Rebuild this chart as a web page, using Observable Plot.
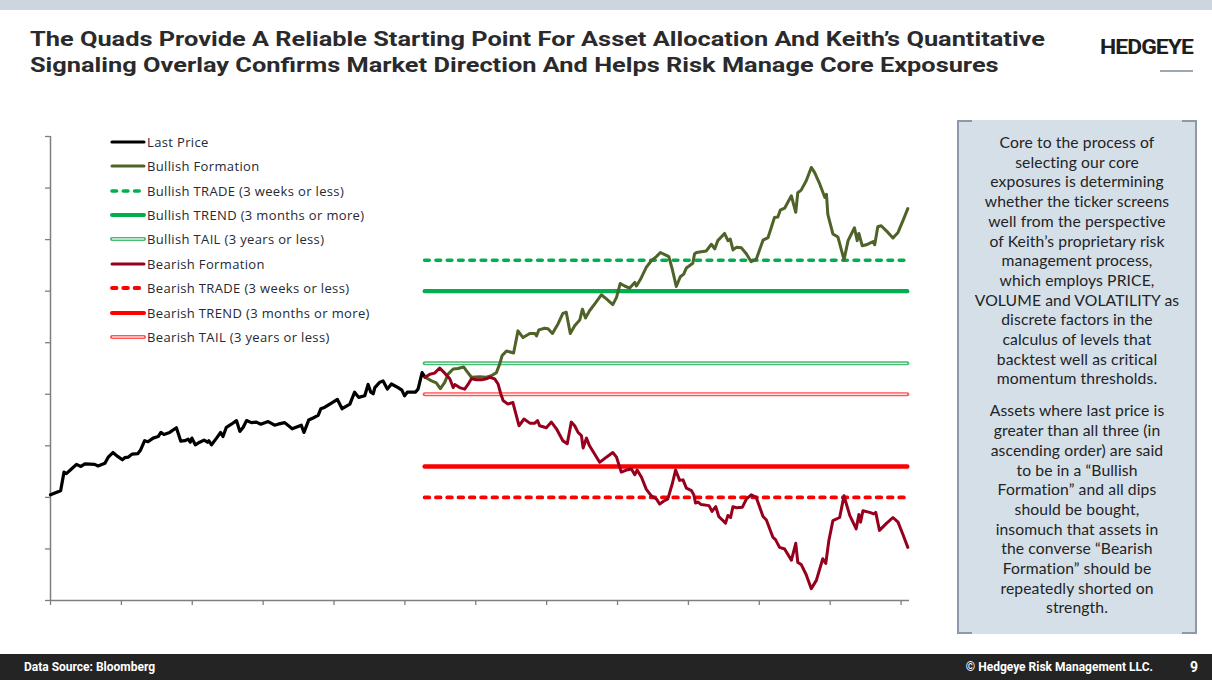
<!DOCTYPE html>
<html>
<head>
<meta charset="utf-8">
<script src="https://cdn.jsdelivr.net/npm/d3@7"></script>
<script src="https://cdn.jsdelivr.net/npm/@observablehq/plot@0.6"></script>
<style>
  html, body { margin: 0; padding: 0; background: #ffffff; }
  #page { position: relative; width: 1212px; height: 680px; overflow: hidden; font-family: Lato, "Open Sans", sans-serif; }
  #topband { position: absolute; left: 0; top: 0; width: 1212px; height: 10px; background: #cdd6de; }
  #title { position: absolute; left: 30px; top: 27px; font-family: Roboto, sans-serif; font-weight: 700; font-size: 20.5px; line-height: 25.5px; color: #2a2a2c; white-space: nowrap; transform-origin: 0 0; }
  #title div { display: block; }
  #logo { position: absolute; left: 1100px; top: 36px; font-family: Roboto, sans-serif; font-weight: 700; font-size: 20px; line-height: 22px; color: #1e1e1e; letter-spacing: -0.8px; white-space: nowrap; transform-origin: 0 0; }
  #logoRule { position: absolute; left: 1160px; top: 70px; width: 33px; height: 2px; background: #9da6b1; }
  #chart { position: absolute; left: 0; top: 120px; }
  #legend { position: absolute; left: 0; top: 0; }
  .item { position: absolute; left: 110px; height: 20px; display: flex; align-items: center; white-space: nowrap; font-family: "Open Sans", sans-serif; font-size: 13px; letter-spacing: 0.35px; color: #262933; }
  .item svg { display: block; margin-right: 1px; }
  #box { position: absolute; left: 957px; top: 120px; width: 240px; height: 514px; background: #d5dfe7; }
  .edge { position: absolute; background: #8d99aa; }
  #boxText { position: absolute; left: 957px; top: 133px; width: 240px; text-align: center; font-size: 15.7px; letter-spacing: 0.1px; line-height: 19.7px; color: #222326; }
  #boxText p { margin: 0 0 12.3px 0; }
  #footer { position: absolute; left: 0; top: 654px; width: 1212px; height: 26px; background: #242424; color: #ffffff; font-family: Roboto, sans-serif; font-weight: 700; font-size: 12px; }
  #footer span { position: absolute; top: 6px; line-height: 15px; white-space: nowrap; }
</style>
</head>
<body>
<div id="page">
  <div id="topband"></div>
  <div id="title">
    <div>The Quads Provide A Reliable Starting Point For Asset Allocation And Keith’s Quantitative</div>
    <div>Signaling Overlay Confirms Market Direction And Helps Risk Manage Core Exposures</div>
  </div>
  <div id="logo">HEDGEYE</div>
  <div id="logoRule"></div>
  <div id="chart"></div>
  <div id="legend"></div>
  <div id="box"></div>
  <div id="boxText"></div>
  <div id="footer">
    <span style="left:24px">Data Source: Bloomberg</span>
    <span style="right:59px">© Hedgeye Risk Management LLC.</span>
    <span style="left:1190px;font-size:14px">9</span>
  </div>
</div>
<script>
// Last price history, in trading days from the start of the window
const priceDays = [0, 3, 4, 4.7, 6.2, 7.7, 9, 10.2, 13.1, 14.1, 16.1, 17.1, 18.5, 20, 21.3, 22, 23, 24.2, 25.9, 26.7,
  27.9, 28.9, 30.4, 31.9, 32.7, 33.6, 35.3, 37.3, 38.6, 39.8, 40.8, 41.4, 41.9, 42.9, 44.2, 45.5, 46.5, 46.9, 47.7, 49.2,
  50.4, 51.1, 52.1, 53.6, 55.1, 56.1, 57.1, 58.1, 59.5, 61, 62.3, 64.5, 66.4, 67.4, 69.4, 71.6, 74.3, 75.1, 76.5, 77.8,
  79.3, 80.1, 81.3, 83, 85, 86.4, 88.7, 90.1, 91.3, 93.1, 94.1, 94.9, 95.6, 96.1, 97.5, 98.5, 99.8, 101, 103, 104.1,
  104.9, 105.7, 108.1, 108.9, 110.1, 111];
const priceValues = [70.5, 71.3, 74.9, 74.6, 75.5, 76.4, 76.0, 76.5, 76.4, 76.1, 76.6, 77.8, 78.7, 77.9, 77.3, 77.7, 77.8, 78.4, 78.5, 79.2,
  81.0, 80.8, 81.5, 81.8, 82.6, 82.2, 82.6, 83.5, 80.9, 81.0, 81.3, 80.7, 81.5, 80.2, 80.7, 81.1, 80.7, 81.0, 80.2, 81.5,
  82.6, 81.8, 83.6, 84.2, 84.9, 82.8, 83.6, 84.9, 84.5, 84.6, 84.2, 84.7, 84.0, 84.2, 84.5, 83.3, 84.0, 82.6, 85.0, 85.4,
  85.9, 87.2, 87.5, 88.2, 89.0, 87.2, 88.1, 90.4, 89.4, 89.7, 91.9, 90.4, 90.1, 91.3, 92.3, 92.6, 91.0, 92.0, 91.3, 90.8,
  89.7, 90.4, 90.4, 91.0, 94.2, 93.3];

// Bullish formation path
const bullDays = [111, 112.9, 114.3, 115.5, 116.8, 117.8, 119.3, 120.7, 122.4, 123.2, 124.7, 127.2, 129.1, 130.6, 132.1, 133.1, 133.8, 135.1, 137.2, 138.5,
  140, 142, 143.5, 144, 144.7, 146.4, 147.4, 148.7, 150.4, 151.8, 152.8, 154, 155.3, 156.8, 157.6, 158.5, 159.7, 161.2, 163.2, 164.7,
  166.6, 167.7, 168.8, 170.1, 171.6, 173.1, 173.6, 174.8, 176.5, 178, 179.5, 180.7, 182, 183.2, 184.2, 185.4, 186.6, 187.6, 188.4, 190.3,
  190.8, 191.4, 194.3, 195.8, 196.8, 197.7, 199.7, 200.7, 201.4, 202.2, 203.2, 204.7, 206.2, 207.6, 209.1, 211.1, 212.6, 214.5, 215.5, 216.2,
  217.5, 219.5, 220.8, 221.4, 222.4, 223.9, 225.4, 226.4, 227.9, 229.4, 229.9, 230.3, 231.8, 233.3, 235.1, 236.3, 238.2, 239, 239.5, 240.5,
  241.7, 243.7, 244.2, 245.1, 246.1, 248.1, 249.6, 251.1, 252.5, 254];
const bullValues = [93.3, 92.6, 92.2, 91.1, 92.3, 93.9, 94.9, 95.0, 95.3, 94.6, 93.3, 93.4, 93.3, 93.6, 94.2, 95.9, 97.5, 98.4, 98.0, 102.3,
  101.0, 101.8, 101.8, 101.3, 102.5, 102.8, 102.7, 101.8, 103.7, 105.7, 105.9, 101.8, 103.3, 104.4, 106.5, 104.8, 106.2, 107.5, 109.3, 108.5,
  107.4, 108.8, 111.5, 111.0, 110.6, 111.7, 111.0, 112.3, 114.6, 115.9, 116.7, 117.5, 117.1, 116.7, 114.3, 110.9, 112.8, 113.3, 114.5, 115.4,
  117.2, 117.5, 117.8, 119.1, 118.2, 119.8, 121.2, 119.8, 120.1, 118.0, 118.5, 118.4, 117.2, 115.7, 116.2, 119.9, 120.4, 124.3, 124.4, 125.7,
  126.1, 128.5, 125.3, 129.1, 129.6, 131.4, 134.0, 133.0, 130.8, 128.2, 128.8, 124.9, 121.1, 120.5, 116.1, 119.8, 122.3, 119.8, 121.2, 118.8,
  119.0, 119.6, 119.0, 122.5, 122.7, 121.4, 120.3, 121.4, 123.6, 126.0];

// Bearish formation path
const bearDays = [111, 112.4, 113.8, 115.3, 116.8, 118.3, 119.3, 119.8, 121.2, 122.7, 123.7, 124.7, 126.2, 127.7, 129.1, 130.1, 131.6, 132.6, 133.4, 134.1,
  135.5, 137, 138, 138.8, 140.3, 142, 143.5, 144.3, 144.9, 146.9, 148.4, 149.9, 151.8, 153.1, 154.3, 155.3, 156.3, 157.3, 157.8, 158.8,
  159.7, 161.2, 162.7, 164.7, 166.6, 167.7, 169.1, 170.6, 172.1, 173.1, 173.8, 175.1, 176.5, 178, 179.5, 180.5, 181.5, 182.9, 184.2, 185.2,
  186.4, 187.4, 188.4, 189.9, 190.6, 191.1, 191.8, 192.8, 195.1, 196, 197.1, 198, 200, 200.7, 201.5, 202.2, 203.2, 205, 206.2, 207.6,
  209.1, 211.1, 212.1, 214, 214.8, 216, 217.5, 219.5, 220.8, 221.4, 222.4, 223.9, 225.4, 226.9, 228.8, 229.7, 230.6, 231.8, 233.8, 235.1,
  236.8, 238.7, 239.5, 240, 240.7, 242.7, 243.9, 244.5, 245.6, 247.6, 249.6, 251.1, 252.5, 254];
const bearValues = [93.3, 93.9, 94.1, 95.1, 94.1, 93.0, 91.3, 91.9, 91.3, 91.0, 91.9, 93.0, 92.8, 92.8, 93.0, 93.3, 93.0, 92.0, 90.1, 88.8,
  88.1, 88.4, 85.9, 83.9, 85.2, 84.4, 84.4, 84.9, 83.9, 83.5, 84.6, 83.3, 81.0, 80.4, 84.6, 83.9, 82.6, 82.0, 79.6, 81.5,
  80.0, 78.4, 76.8, 77.8, 78.7, 77.8, 74.9, 75.3, 75.5, 74.4, 75.3, 73.9, 71.6, 70.3, 69.7, 68.7, 69.2, 69.7, 72.6, 75.3,
  73.3, 73.4, 71.8, 71.3, 70.5, 68.9, 69.1, 68.6, 68.4, 67.3, 68.2, 66.3, 65.0, 66.5, 66.1, 68.2, 68.0, 68.1, 69.7, 70.5,
  70.0, 66.3, 65.6, 62.3, 61.8, 60.3, 60.0, 57.8, 61.1, 57.4, 57.0, 55.0, 52.3, 53.9, 58.1, 57.2, 61.6, 65.5, 66.1, 70.3,
  66.5, 63.9, 66.7, 65.2, 67.4, 67.1, 66.8, 67.1, 63.6, 64.9, 66.1, 65.2, 62.9, 60.3];

// Signal levels, drawn from the start of the formation period to the last session
const levelNames = ["Bullish TRADE (3 weeks or less)", "Bullish TREND (3 months or more)", "Bullish TAIL (3 years or less)",
  "Bearish TAIL (3 years or less)", "Bearish TREND (3 months or more)", "Bearish TRADE (3 weeks or less)"];
const levelValues = [116, 110, 96, 90, 76, 70];
const levelStart = 111;
const levelEnd = 254;

// Axis ticks (unlabelled): one per month of sessions, and every 10 price units
const xTicks = d3.range(0, 253, 21);
const yTicks = d3.range(50, 141, 10);

const legendNames = ["Last Price", "Bullish Formation", "Bullish TRADE (3 weeks or less)", "Bullish TREND (3 months or more)",
  "Bullish TAIL (3 years or less)", "Bearish Formation", "Bearish TRADE (3 weeks or less)", "Bearish TREND (3 months or more)",
  "Bearish TAIL (3 years or less)"];

const boxParagraphs = [
  ["Core to the process of", "selecting our core", "exposures is determining", "whether the ticker screens",
   "well from the perspective", "of Keith’s proprietary risk", "management process,", "which employs PRICE,",
   "VOLUME and VOLATILITY as", "discrete factors in the", "calculus of levels that", "backtest well as critical",
   "momentum thresholds."],
  ["Assets where last price is", "greater than all three (in", "ascending order) are said", "to be in a “Bullish",
   "Formation” and all dips", "should be bought,", "insomuch that assets in", "the converse “Bearish",
   "Formation” should be", "repeatedly shorted on", "strength."]
];

// Line styling for every series
const styles = {
  "Last Price": {stroke: "#000000", width: 3.2},
  "Bullish Formation": {stroke: "#4f6228", width: 3},
  "Bullish TRADE (3 weeks or less)": {stroke: "#00b050", width: 3.6, dash: "4.6,6.7"},
  "Bullish TREND (3 months or more)": {stroke: "#00b050", width: 4.2},
  "Bullish TAIL (3 years or less)": {stroke: "#45bd72", width: 4, inner: "#e2f5e9"},
  "Bearish Formation": {stroke: "#96001c", width: 3},
  "Bearish TRADE (3 weeks or less)": {stroke: "#ff0000", width: 3.8, dash: "4.6,6.7"},
  "Bearish TREND (3 months or more)": {stroke: "#ff0000", width: 4.5},
  "Bearish TAIL (3 years or less)": {stroke: "#ff5454", width: 4, inner: "#ffdede"}
};
const axisColor = "#7f7f7f";

const toRows = (days, values) => days.map((day, i) => ({day, value: values[i]}));
const priceRows = toRows(priceDays, priceValues);
const bullRows = toRows(bullDays, bullValues);
const bearRows = toRows(bearDays, bearValues);
const levelRows = levelNames.map((name, i) => ({name, value: levelValues[i], start: levelStart, end: levelEnd}));

const levelMarks = levelRows.flatMap(row => {
  const s = styles[row.name];
  const marks = [Plot.ruleY([row], {y: "value", x1: "start", x2: "end", stroke: s.stroke, strokeWidth: s.width,
    strokeDasharray: s.dash, strokeLinecap: "round"})];
  if (s.inner) marks.push(Plot.ruleY([row], {y: "value", x1: "start", x2: "end", stroke: s.inner, strokeWidth: 1.4}));
  return marks;
});

const lineMark = (rows, name) => Plot.line(rows, {x: "day", y: "value", stroke: styles[name].stroke,
  strokeWidth: styles[name].width, strokeLinejoin: "round", strokeLinecap: "round"});

const chart = Plot.plot({
  width: 930,
  height: 500,
  marginLeft: 50,
  marginRight: 21,
  marginTop: 16,
  marginBottom: 20,
  x: {domain: [0, 254.5], axis: null},
  y: {domain: [50, 140], axis: null},
  style: {background: "transparent", overflow: "visible"},
  marks: [
    Plot.axisX(xTicks, {tickSize: 5, tickFormat: () => "", label: null, stroke: axisColor, strokeWidth: 1.3}),
    Plot.axisY(yTicks, {tickSize: 5, tickFormat: () => "", label: null, stroke: axisColor, strokeWidth: 1.3}),
    Plot.ruleY([50], {stroke: axisColor, strokeWidth: 1.5}),
    Plot.ruleX([0], {stroke: axisColor, strokeWidth: 1.5}),
    ...levelMarks,
    lineMark(priceRows, "Last Price"),
    lineMark(bullRows, "Bullish Formation"),
    lineMark(bearRows, "Bearish Formation")
  ]
});
document.getElementById("chart").appendChild(chart);

// Legend overlaid on the upper left of the plot
const legend = d3.select("#legend");
legendNames.forEach((name, i) => {
  const s = styles[name];
  const item = legend.append("div").attr("class", "item").style("top", (131.7 + 24.4 * i) + "px");
  const sw = item.append("svg").attr("width", 36).attr("height", 10);
  sw.append("line").attr("x1", 2).attr("x2", 34).attr("y1", 5).attr("y2", 5)
    .attr("stroke", s.stroke).attr("stroke-width", Math.min(s.width, 4))
    .attr("stroke-linecap", "round").attr("stroke-dasharray", s.dash || null);
  if (s.inner) sw.append("line").attr("x1", 2).attr("x2", 34).attr("y1", 5).attr("y2", 5)
    .attr("stroke", s.inner).attr("stroke-width", 1.4);
  item.append("span").text(name);
});

// Side note box with bracket edges
const box = d3.select("#box");
[[0, 0, 2, 514], [238, 0, 2, 514], [0, 0, 15, 2], [0, 512, 15, 2], [225, 0, 15, 2], [225, 512, 15, 2]]
  .forEach(([l, t, w, h]) => box.append("div").attr("class", "edge")
    .style("left", l + "px").style("top", t + "px").style("width", w + "px").style("height", h + "px"));
const boxText = d3.select("#boxText");
boxParagraphs.forEach(lines => boxText.append("p").html(lines.join("<br>")));

// Fit a block of text horizontally to a target width
function fitWidth(el, target) {
  const range = document.createRange();
  range.selectNodeContents(el.firstElementChild || el);
  const w = range.getBoundingClientRect().width;
  if (w > 0) el.style.transform = `scaleX(${target / w})`;
}
fitWidth(document.getElementById("title"), 1015);
fitWidth(document.getElementById("logo"), 93);
</script>
</body>
</html>
